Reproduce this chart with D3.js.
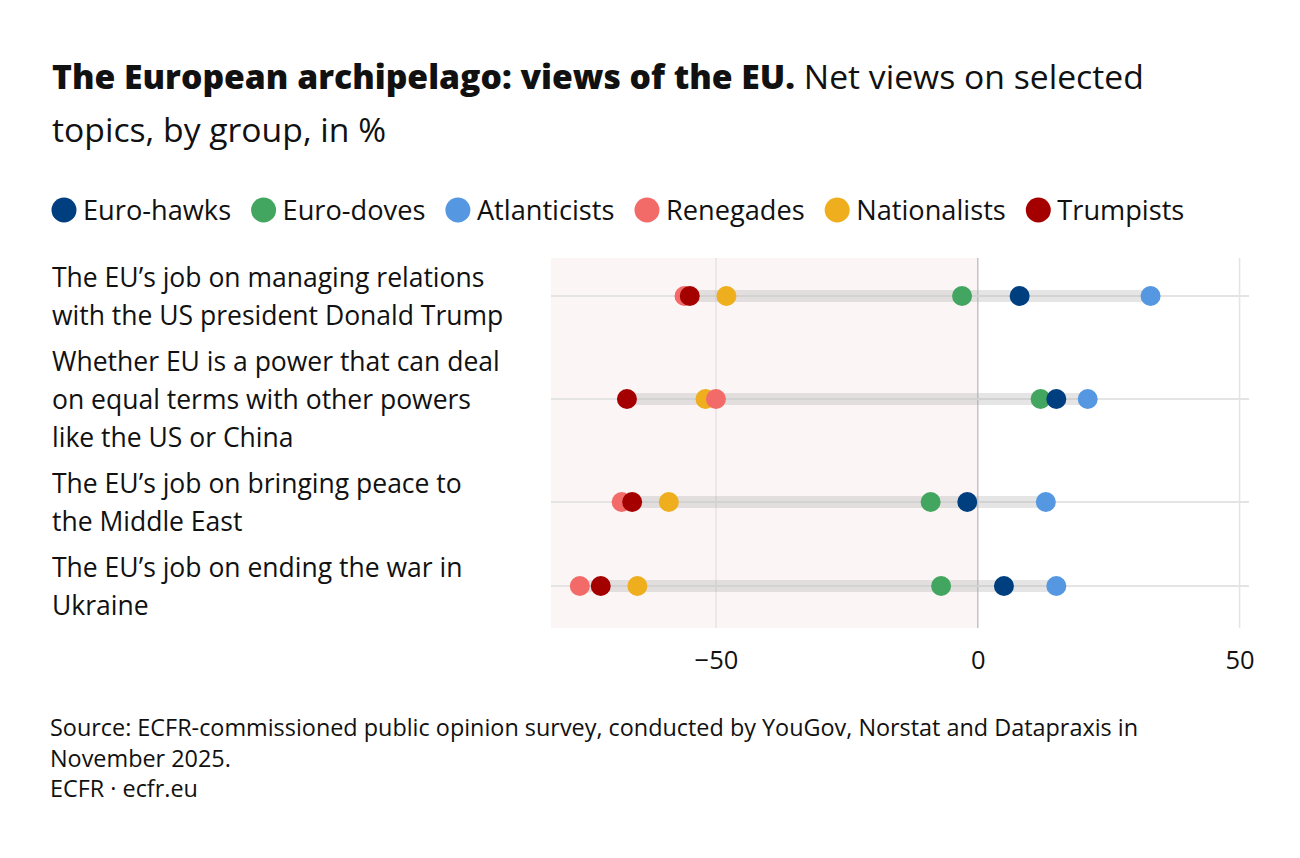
<!DOCTYPE html>
<html>
<head>
<meta charset="utf-8">
<script src="https://cdn.jsdelivr.net/npm/d3@7"></script>
<style>
  body { margin: 0; background: #fff; }
  text { font-family: "Open Sans", Lato, sans-serif; fill: #111; }
</style>
</head>
<body>
<div id="chart"></div>
<script>
// topics (label lines), groups and net views in %
const topics = [
    ["The EU\u2019s job on managing relations", "with the US president Donald Trump"],
    ["Whether EU is a power that can deal", "on equal terms with other powers", "like the US or China"],
    ["The EU\u2019s job on bringing peace to", "the Middle East"],
    ["The EU\u2019s job on ending the war in", "Ukraine"]
];
const groups = ["Euro-hawks", "Euro-doves", "Atlanticists", "Renegades", "Nationalists", "Trumpists"];
const groupColors = ["#003f7f", "#43a660", "#5597e1", "#f36b69", "#efae1d", "#a50000"];
const euroHawks = [8, 15, -2, 5];
const euroDoves = [-3, 12, -9, -7];
const atlanticists = [33, 21, 13, 15];
const renegades = [-56, -50, -68, -76];
const nationalists = [-48, -52, -59, -65];
const trumpists = [-55, -67, -66, -72];
const xTicks = [-50, 0, 50];

const layout = {
    width: 1300,
    height: 858,
    plotLeft: 551,
    plotRight: 1249,
    plotTop: 258,
    plotBottom: 628,
    labelX: 52,
    lineHeight: 38,
    blockGap: 8,
    dotRadius: 10
};

const values = [euroHawks, euroDoves, atlanticists, renegades, nationalists, trumpists];
// drawing order so overlaps look like the original
const drawOrder = [1, 0, 2, 4, 3, 5];

let svg = d3.select("#chart").append("svg")
    .attr("width", layout.width)
    .attr("height", layout.height)
    .attr("viewBox", [0, 0, layout.width, layout.height].join(" "));

svg.append("rect").attr("width", layout.width).attr("height", layout.height).attr("fill", "#fff");

// title
let title = svg.append("text").attr("x", 52).attr("y", 89).attr("font-size", 33.7);
title.append("tspan").attr("font-weight", 800).text("The European archipelago: views of the EU.");
title.append("tspan").text(" Net views on selected");
svg.append("text").attr("x", 52).attr("y", 142).attr("font-size", 33.7).text("topics, by group, in %");

// legend
let legend = svg.append("g").attr("transform", "translate(0,210)");
let lx = 64;
groups.forEach((g, i) => {
    legend.append("circle").attr("cx", lx).attr("cy", 0).attr("r", 12.5).attr("fill", groupColors[i]);
    let t = legend.append("text").attr("x", lx + 19).attr("y", 10).attr("font-size", 27.2).text(g);
    lx += 19 + t.node().getComputedTextLength() + 32.5;
});

// x scale
let xScale = d3.scaleLinear()
    .domain([-81.5, 51.8])
    .range([layout.plotLeft, layout.plotRight]);

// row positions follow the label blocks
let rows = [];
let rowTop = layout.plotTop;
topics.forEach(lines => {
    rows.push({ top: rowTop, center: rowTop + lines.length * layout.lineHeight / 2, lines: lines });
    rowTop += lines.length * layout.lineHeight + layout.blockGap;
});

// negative side shading
svg.append("rect")
    .attr("x", layout.plotLeft)
    .attr("y", layout.plotTop)
    .attr("width", xScale(0) - layout.plotLeft)
    .attr("height", layout.plotBottom - layout.plotTop)
    .attr("fill", "#fbf5f5");

// vertical grid
svg.append("g").selectAll("line").data(xTicks).join("line")
    .attr("x1", d => xScale(d)).attr("x2", d => xScale(d))
    .attr("y1", layout.plotTop).attr("y2", layout.plotBottom)
    .attr("stroke", d => d === 0 ? "#c4c4c4" : "#e4e4e4")
    .attr("stroke-width", 1.5);

// row lines
svg.append("g").selectAll("line").data(rows).join("line")
    .attr("x1", layout.plotLeft).attr("x2", layout.plotRight)
    .attr("y1", d => d.center).attr("y2", d => d.center)
    .attr("stroke", "#e4e4e4")
    .attr("stroke-width", 2);

// range bars
svg.append("g").selectAll("rect").data(rows).join("rect")
    .attr("x", (d, i) => xScale(d3.min(values, v => v[i])))
    .attr("width", (d, i) => xScale(d3.max(values, v => v[i])) - xScale(d3.min(values, v => v[i])))
    .attr("y", d => d.center - 6)
    .attr("height", 12)
    .attr("fill", "#aaaaaa")
    .attr("opacity", 0.3);

// dots
let dotGroup = svg.append("g");
drawOrder.forEach(gi => {
    dotGroup.selectAll(null).data(values[gi]).join("circle")
        .attr("cx", d => xScale(d))
        .attr("cy", (d, i) => rows[i].center)
        .attr("r", layout.dotRadius)
        .attr("fill", groupColors[gi]);
});

// topic labels
rows.forEach(r => {
    let t = svg.append("text").attr("font-size", 26.5);
    r.lines.forEach((line, j) => {
        t.append("tspan")
            .attr("x", layout.labelX)
            .attr("y", r.top + layout.lineHeight * j + 28.5)
            .text(line);
    });
});

// x axis
let xAxis = svg.append("g")
    .attr("transform", `translate(0,${layout.plotBottom})`)
    .call(d3.axisBottom(xScale).tickValues(xTicks).tickSize(0).tickPadding(23));
xAxis.select(".domain").remove();
xAxis.selectAll("text")
    .attr("font-size", 25.5)
    .attr("font-family", "'Open Sans', sans-serif")
    .attr("fill", "#111");

// source
let source = ["Source: ECFR-commissioned public opinion survey, conducted by YouGov, Norstat and Datapraxis in",
    "November 2025.", "ECFR \u00b7 ecfr.eu"];
svg.append("g").selectAll("text").data(source).join("text")
    .attr("x", 50)
    .attr("y", (d, i) => 736 + i * 30.5)
    .attr("font-size", 23.4)
    .text(d => d);
</script>
</body>
</html>
